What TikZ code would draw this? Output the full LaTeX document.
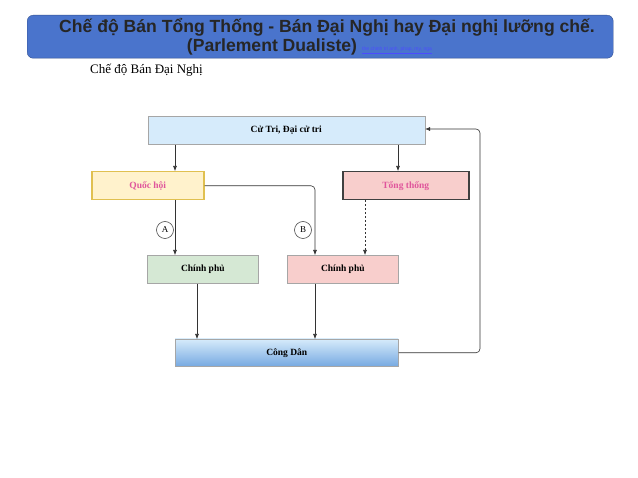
\documentclass[tikz,border=0pt]{standalone}
\usepackage{fontspec}
\setmainfont{Liberation Serif}
\newfontfamily\titlefont{Liberation Sans}
\usetikzlibrary{arrows.meta}
\definecolor{titlebg}{HTML}{4A74CC}
\tikzset{
  box/.style={draw=gray!70, line width=0.6pt, minimum height=28pt, font=\bfseries\fontsize{9.5}{11}\selectfont, anchor=north west, inner sep=0pt},
  conn/.style={draw=black!80, line width=0.6pt, -{Latex[length=5pt,width=4pt]}, rounded corners=4pt},
  lbl/.style={circle, draw=black!70, line width=0.6pt, minimum size=17pt, inner sep=0pt, font=\fontsize{9}{10}\selectfont},
}
\begin{document}
\begin{tikzpicture}[x=1pt,y=-1pt]
\useasboundingbox (0,0) rectangle (638,478);
\fill[white] (0,0) rectangle (638,478);
\node[draw=titlebg!70!black, fill=titlebg, rounded corners=6pt, minimum width=586pt, minimum height=43pt, anchor=north west] (title) at (27,15) {};
\node[font=\titlefont\bfseries\fontsize{17.6}{20}\selectfont, text=black!85] (t1) at (327,27) {Chế độ Bán Tổng Thống - Bán Đại Nghị hay Đại nghị lưỡng chế.};
\node[font=\titlefont\bfseries\fontsize{17.6}{20}\selectfont, text=black!85] (t2) at (272,47) {(Parlement Dualiste)};
\node[font=\titlefont\fontsize{5}{6}\selectfont, text=blue!70, anchor=west, inner sep=0pt] (link) at (362,50) {\underline{the chinh tri anh, phap, my, nga}};
\node[font=\fontsize{13}{15}\selectfont, anchor=west, inner sep=0pt] (sub) at (90,70) {Chế độ Bán Đại Nghị};

\node[box, fill={rgb,255:red,214;green,235;blue,251}, minimum width=277pt] (cutri) at (147.5,116) {Cử Tri, Đại cử tri};
\node[box, draw={rgb,255:red,224;green,192;blue,80}, line width=1.5pt, fill={rgb,255:red,255;green,242;blue,204}, text={rgb,255:red,224;green,85;blue,156}, minimum width=112pt] (qh) at (91,171) {Quốc hội};
\node[box, draw=black!75, line width=1.5pt, fill={rgb,255:red,248;green,206;blue,204}, text={rgb,255:red,224;green,85;blue,156}, minimum width=126pt] (tt) at (342,171) {Tổng thống};
\node[box, fill={rgb,255:red,213;green,232;blue,212}, minimum width=111pt] (cp1) at (147,255) {Chính phủ};
\node[box, fill={rgb,255:red,248;green,206;blue,204}, minimum width=111pt] (cp2) at (287,255) {Chính phủ};
\shade[top color={rgb,255:red,214;green,235;blue,251}, bottom color={rgb,255:red,120;green,170;blue,225}, draw=gray!70, line width=0.6pt] (175,339) rectangle (398,366);
\node[box, draw=none, minimum width=223pt, minimum height=27pt] (cd) at (175,339) {Công Dân};
\node[lbl] (a) at (165,230) {A};
\node[lbl] (b) at (303,230) {B};

\draw[conn] (cutri.south -| 175,0) -- (qh.north -| 175,0);
\draw[conn] (cutri.south -| 398,0) -- (tt.north -| 398,0);
\draw[conn] (qh.south -| 175,0) -- (cp1.north -| 175,0);
\draw[conn] (qh.east) -| (cp2.north -| 315,0);
\draw[conn, dash pattern=on 2pt off 2pt] (tt.south -| 365,0) -- (cp2.north -| 365,0);
\draw[conn] (cp1.south -| 197,0) -- (cd.north -| 197,0);
\draw[conn] (cp2.south -| 315,0) -- (cd.north -| 315,0);
\draw[conn] (cd.east) -| (480,129) -- (cutri.east |- 0,129);
\end{tikzpicture}
\end{document}
